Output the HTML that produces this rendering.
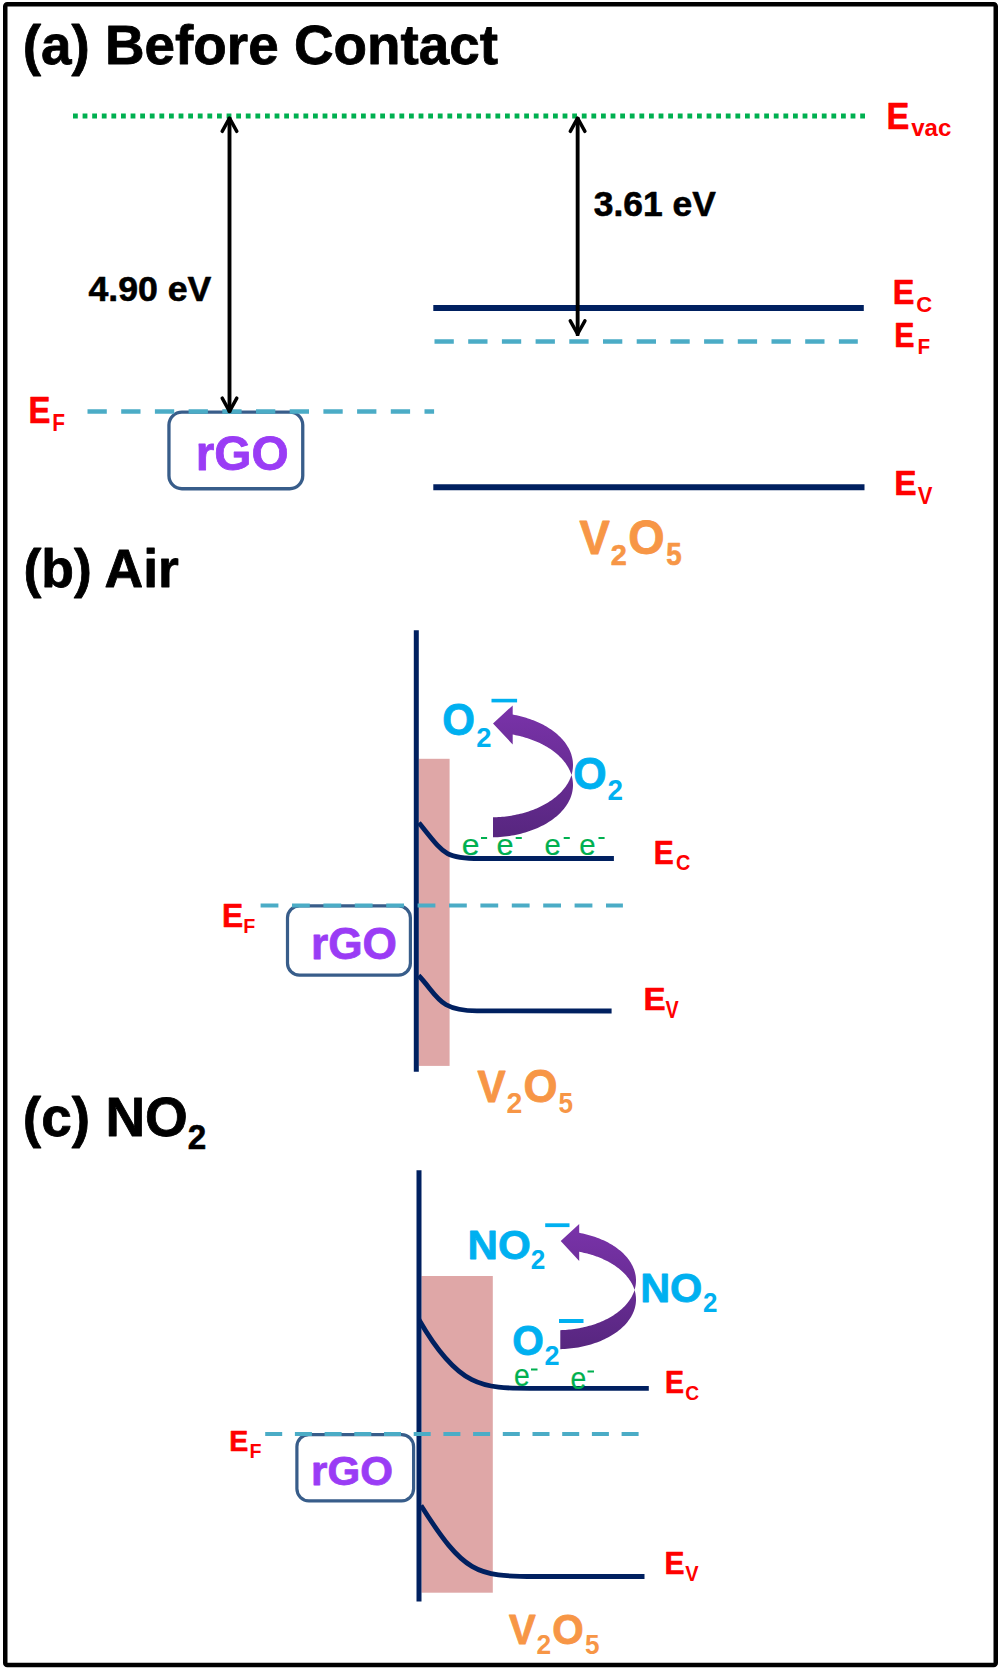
<!DOCTYPE html>
<html><head><meta charset="utf-8"><style>
html,body{margin:0;padding:0;background:#fff;}
body{width:1000px;height:1671px;overflow:hidden;}
svg{display:block;font-family:"Liberation Sans",sans-serif;}
</style></head><body>
<svg width="1000" height="1671" viewBox="0 0 1000 1671">
<defs>
<linearGradient id="gb" x1="0" y1="0" x2="0" y2="1"><stop offset="0" stop-color="#7A33AA"/><stop offset="1" stop-color="#57267F"/></linearGradient>
<linearGradient id="gc" x1="0" y1="0" x2="0" y2="1"><stop offset="0" stop-color="#7A33AA"/><stop offset="1" stop-color="#57267F"/></linearGradient>
</defs>
<rect width="1000" height="1671" fill="#fff"/>
<rect x="5.25" y="4.25" width="990.5" height="1660.75" rx="2" fill="none" stroke="#000" stroke-width="4.5"/>
<text transform="translate(22.77,64.30) scale(0.5485,0.5494)" font-size="100" font-weight="bold" fill="#000" stroke="#000" stroke-width="1.457" stroke-linejoin="round">(a) Before Contact</text>
<line x1="73" y1="116" x2="867" y2="116" stroke="#00B050" stroke-width="5" stroke-linecap="butt" stroke-dasharray="4.8 4.8"/>
<text transform="translate(886.51,128.60) scale(0.3422,0.3663)" font-size="100" font-weight="bold" fill="#FF0000" stroke="#FF0000" stroke-width="1.694" stroke-linejoin="round">E</text>
<text transform="translate(911.21,135.88) scale(0.2409,0.2300)" font-size="100" font-weight="bold" fill="#FF0000">vac</text>
<text transform="translate(88.46,301.05) scale(0.3568,0.3545)" font-size="100" font-weight="bold" fill="#000" stroke="#000" stroke-width="1.687" stroke-linejoin="round">4.90 eV</text>
<text transform="translate(593.79,216.31) scale(0.3541,0.3481)" font-size="100" font-weight="bold" fill="#000" stroke="#000" stroke-width="1.709" stroke-linejoin="round">3.61 eV</text>
<line x1="433.3" y1="308" x2="863.8" y2="308" stroke="#002060" stroke-width="6" stroke-linecap="butt"/>
<text transform="translate(892.83,304.20) scale(0.3244,0.3474)" font-size="100" font-weight="bold" fill="#FF0000" stroke="#FF0000" stroke-width="1.786" stroke-linejoin="round">E</text>
<text transform="translate(916.20,311.98) scale(0.2202,0.2217)" font-size="100" font-weight="bold" fill="#FF0000">C</text>
<line x1="434.5" y1="341.5" x2="857.8" y2="341.5" stroke="#4BACC6" stroke-width="4.5" stroke-linecap="butt" stroke-dasharray="19.3 14.4"/>
<text transform="translate(894.37,346.90) scale(0.3030,0.3503)" font-size="100" font-weight="bold" fill="#FF0000" stroke="#FF0000" stroke-width="1.837" stroke-linejoin="round">E</text>
<text transform="translate(917.62,354.20) scale(0.2070,0.2253)" font-size="100" font-weight="bold" fill="#FF0000">F</text>
<line x1="433.3" y1="487.3" x2="864.5" y2="487.3" stroke="#002060" stroke-width="6" stroke-linecap="butt"/>
<text transform="translate(894.16,494.90) scale(0.3351,0.3576)" font-size="100" font-weight="bold" fill="#FF0000" stroke="#FF0000" stroke-width="1.732" stroke-linejoin="round">E</text>
<text transform="translate(917.65,503.50) scale(0.2204,0.2471)" font-size="100" font-weight="bold" fill="#FF0000">V</text>
<rect x="168.95000000000002" y="412.04999999999995" width="133.80" height="76.70" rx="13" fill="#fff" stroke="#385D8A" stroke-width="3.3"/>
<line x1="87.5" y1="411.5" x2="434.1" y2="411.5" stroke="#4BACC6" stroke-width="4.5" stroke-linecap="butt" stroke-dasharray="19.3 14.4"/>
<text transform="translate(28.61,423.20) scale(0.3280,0.3605)" font-size="100" font-weight="bold" fill="#FF0000" stroke="#FF0000" stroke-width="1.743" stroke-linejoin="round">E</text>
<text transform="translate(52.30,430.70) scale(0.2089,0.2355)" font-size="100" font-weight="bold" fill="#FF0000">F</text>
<line x1="229.5" y1="117.7" x2="229.5" y2="412.8" stroke="#000" stroke-width="3.5" stroke-linecap="butt"/>
<path d="M222.2,131.3 L229.5,118.2 L236.8,131.3" fill="none" stroke="#000" stroke-width="3.5" stroke-linecap="round" stroke-linejoin="round"/>
<line x1="229.5" y1="117" x2="229.5" y2="411.8" stroke="#000" stroke-width="3.5" stroke-linecap="butt"/>
<path d="M222.2,398.2 L229.5,411.3 L236.8,398.2" fill="none" stroke="#000" stroke-width="3.5" stroke-linecap="round" stroke-linejoin="round"/>
<line x1="577.6" y1="117.7" x2="577.6" y2="336" stroke="#000" stroke-width="3.5" stroke-linecap="butt"/>
<path d="M570.3000000000001,131.3 L577.6,118.2 L584.9,131.3" fill="none" stroke="#000" stroke-width="3.5" stroke-linecap="round" stroke-linejoin="round"/>
<line x1="577.6" y1="117" x2="577.6" y2="334.5" stroke="#000" stroke-width="3.5" stroke-linecap="butt"/>
<path d="M570.3000000000001,320.9 L577.6,334.0 L584.9,320.9" fill="none" stroke="#000" stroke-width="3.5" stroke-linecap="round" stroke-linejoin="round"/>
<text transform="translate(195.75,469.83) scale(0.4780,0.4830)" font-size="100" font-weight="bold" fill="#9A3CF5" stroke="#9A3CF5" stroke-width="1.665" stroke-linejoin="round">rGO</text>
<text transform="translate(579.49,553.60) scale(0.4546,0.4782)" font-size="100" font-weight="bold" fill="#F79646" stroke="#F79646" stroke-width="1.715" stroke-linejoin="round">V</text>
<text transform="translate(610.80,564.90) scale(0.2887,0.3022)" font-size="100" font-weight="bold" fill="#F79646" stroke="#F79646" stroke-width="2.031" stroke-linejoin="round">2</text>
<text transform="translate(628.28,553.63) scale(0.4677,0.4830)" font-size="100" font-weight="bold" fill="#F79646" stroke="#F79646" stroke-width="1.683" stroke-linejoin="round">O</text>
<text transform="translate(666.35,564.90) scale(0.2774,0.3067)" font-size="100" font-weight="bold" fill="#F79646" stroke="#F79646" stroke-width="2.055" stroke-linejoin="round">5</text>
<text transform="translate(23.44,586.80) scale(0.5349,0.5422)" font-size="100" font-weight="bold" fill="#000" stroke="#000" stroke-width="1.485" stroke-linejoin="round">(b) Air</text>
<rect x="418.8" y="758.8" width="30.80" height="307.10" fill="#DFA7A7"/>
<line x1="416.3" y1="630.2" x2="416.3" y2="1071.7" stroke="#002060" stroke-width="5" stroke-linecap="butt"/>
<path d="M418.9,822.8 C443.98,853.69 444.15,858.5 480,858.5 L613.9,858.5" fill="none" stroke="#002060" stroke-width="4.8" stroke-linecap="butt" stroke-linejoin="round"/>
<path d="M418.6,975.5 C438.2,995.96 438.2,1010.8 477,1010.8 L611.6,1011" fill="none" stroke="#002060" stroke-width="4.8" stroke-linecap="butt" stroke-linejoin="round"/>
<rect x="287.5" y="905.8000000000001" width="122.90" height="69.40" rx="12" fill="#fff" stroke="#385D8A" stroke-width="3.2"/>
<line x1="260.6" y1="905.6" x2="622.9" y2="905.6" stroke="#4BACC6" stroke-width="4" stroke-linecap="butt" stroke-dasharray="17.8 13.6"/>
<text transform="translate(221.88,926.50) scale(0.3173,0.3285)" font-size="100" font-weight="bold" fill="#FF0000" stroke="#FF0000" stroke-width="1.858" stroke-linejoin="round">E</text>
<text transform="translate(243.28,933.40) scale(0.1971,0.2093)" font-size="100" font-weight="bold" fill="#FF0000">F</text>
<text transform="translate(310.99,958.97) scale(0.4420,0.4407)" font-size="100" font-weight="bold" fill="#9A3CF5" stroke="#9A3CF5" stroke-width="1.813" stroke-linejoin="round">rGO</text>
<text transform="translate(653.80,864.00) scale(0.2994,0.3270)" font-size="100" font-weight="bold" fill="#FF0000" stroke="#FF0000" stroke-width="1.915" stroke-linejoin="round">E</text>
<text transform="translate(675.88,870.39) scale(0.1988,0.2133)" font-size="100" font-weight="bold" fill="#FF0000">C</text>
<text transform="translate(643.58,1010.00) scale(0.3315,0.3140)" font-size="100" font-weight="bold" fill="#FF0000" stroke="#FF0000" stroke-width="1.859" stroke-linejoin="round">E</text>
<text transform="translate(665.57,1017.50) scale(0.1975,0.2384)" font-size="100" font-weight="bold" fill="#FF0000">V</text>
<text transform="translate(477.41,1101.80) scale(0.4225,0.4491)" font-size="100" font-weight="bold" fill="#F79646" stroke="#F79646" stroke-width="1.836" stroke-linejoin="round">V</text>
<text transform="translate(506.41,1113.40) scale(0.2846,0.2965)" font-size="100" font-weight="bold" fill="#F79646">2</text>
<text transform="translate(523.51,1102.05) scale(0.4375,0.4562)" font-size="100" font-weight="bold" fill="#F79646" stroke="#F79646" stroke-width="1.790" stroke-linejoin="round">O</text>
<text transform="translate(558.40,1113.11) scale(0.2613,0.2924)" font-size="100" font-weight="bold" fill="#F79646">5</text>
<path d="M493.00,837.37 L495.39,837.29 L497.77,837.17 L500.14,837.01 L502.51,836.80 L504.86,836.55 L507.21,836.26 L509.54,835.93 L511.85,835.55 L514.14,835.13 L516.42,834.67 L518.67,834.17 L520.90,833.63 L523.10,833.05 L525.28,832.43 L527.43,831.77 L529.54,831.07 L531.63,830.33 L533.68,829.56 L535.69,828.75 L537.66,827.90 L539.60,827.01 L541.49,826.10 L543.35,825.14 L545.15,824.16 L546.91,823.14 L548.63,822.09 L550.30,821.01 L551.91,819.90 L553.48,818.76 L554.99,817.59 L556.45,816.40 L557.85,815.18 L559.20,813.93 L560.49,812.67 L561.72,811.37 L562.89,810.06 L564.01,808.73 L565.06,807.37 L566.04,806.00 L566.97,804.61 L567.83,803.20 L568.63,801.78 L569.36,800.35 L570.03,798.90 L570.63,797.44 L571.16,795.97 L571.63,794.49 L572.03,793.00 L572.36,791.51 L572.62,790.01 L572.81,788.51 L572.94,787.00 L573.00,785.49 L572.98,783.99 L572.90,782.48 L572.75,780.97 L572.54,779.47 L572.25,777.98 L571.90,776.48 L571.47,775.00 L571.47,775.00 L571.84,773.72 L572.16,772.44 L572.43,771.15 L572.64,769.86 L572.81,768.57 L572.92,767.28 L572.99,765.98 L573.00,764.68 L572.96,763.38 L572.87,762.09 L572.73,760.79 L572.54,759.50 L572.30,758.21 L572.01,756.93 L571.67,755.65 L571.28,754.37 L570.83,753.11 L570.34,751.85 L569.80,750.60 L569.21,749.35 L568.57,748.12 L567.89,746.90 L567.15,745.68 L566.37,744.48 L565.55,743.30 L564.67,742.12 L563.75,740.96 L562.79,739.82 L561.78,738.69 L560.72,737.57 L559.62,736.47 L558.48,735.40 L557.30,734.33 L556.08,733.29 L554.81,732.27 L553.51,731.26 L552.17,730.28 L550.79,729.32 L549.37,728.38 L547.92,727.47 L546.43,726.57 L544.90,725.70 L543.34,724.85 L541.75,724.03 L540.13,723.24 L538.48,722.47 L536.79,721.72 L535.08,721.00 L533.34,720.31 L531.58,719.65 L529.78,719.01 L527.97,718.40 L526.13,717.82 L524.27,717.27 L522.39,716.75 L520.48,716.26 L518.56,715.80 L516.62,715.37 L514.67,714.97 L512.70,714.60 L512.70,705.40 L493.00,723.40 L512.70,744.40 L512.70,734.60 L514.16,734.87 L515.62,735.16 L517.06,735.46 L518.50,735.79 L519.92,736.12 L521.34,736.48 L522.75,736.85 L524.14,737.24 L525.52,737.64 L526.90,738.06 L528.25,738.50 L529.60,738.95 L530.93,739.42 L532.25,739.90 L533.56,740.40 L534.85,740.91 L536.12,741.44 L537.38,741.98 L538.62,742.53 L539.85,743.10 L541.06,743.69 L542.25,744.29 L543.43,744.90 L544.59,745.53 L545.73,746.17 L546.85,746.82 L547.95,747.48 L549.03,748.16 L550.09,748.85 L551.13,749.56 L552.15,750.27 L553.15,751.00 L554.13,751.73 L555.09,752.48 L556.02,753.24 L556.93,754.01 L557.82,754.79 L558.69,755.59 L559.53,756.39 L560.35,757.20 L561.15,758.02 L561.92,758.85 L562.67,759.69 L563.40,760.53 L564.10,761.39 L564.77,762.25 L565.42,763.12 L566.04,764.00 L566.64,764.88 L567.21,765.78 L567.76,766.67 L568.28,767.58 L568.77,768.49 L569.24,769.40 L569.68,770.33 L570.09,771.25 L570.48,772.18 L570.84,773.12 L571.17,774.06 L571.47,775.00 L571.47,775.00 L571.10,776.15 L570.68,777.29 L570.23,778.43 L569.73,779.56 L569.20,780.68 L568.62,781.80 L568.01,782.90 L567.35,784.00 L566.66,785.09 L565.93,786.16 L565.16,787.23 L564.35,788.29 L563.51,789.33 L562.63,790.37 L561.71,791.38 L560.76,792.39 L559.77,793.38 L558.75,794.36 L557.69,795.33 L556.60,796.27 L555.47,797.21 L554.31,798.12 L553.12,799.02 L551.90,799.91 L550.65,800.77 L549.37,801.62 L548.05,802.45 L546.71,803.26 L545.34,804.05 L543.94,804.82 L542.52,805.58 L541.07,806.31 L539.59,807.02 L538.09,807.71 L536.56,808.38 L535.01,809.02 L533.44,809.65 L531.85,810.25 L530.23,810.83 L528.60,811.39 L526.95,811.92 L525.27,812.43 L523.58,812.92 L521.88,813.38 L520.15,813.82 L518.42,814.23 L516.66,814.62 L514.90,814.99 L513.12,815.33 L511.33,815.64 L509.53,815.93 L507.72,816.19 L505.90,816.43 L504.08,816.64 L502.24,816.83 L500.40,816.99 L498.56,817.12 L496.71,817.23 L494.86,817.31 L493.00,817.37Z" fill="url(#gb)"/>
<text transform="translate(442.18,735.47) scale(0.4203,0.4449)" font-size="100" font-weight="bold" fill="#00B0F0" stroke="#00B0F0" stroke-width="1.849" stroke-linejoin="round">O</text>
<text transform="translate(476.35,746.50) scale(0.2742,0.2821)" font-size="100" font-weight="bold" fill="#00B0F0">2</text>
<rect x="491.5" y="698.8" width="25.60" height="3.60" fill="#00B0F0"/>
<text transform="translate(573.14,789.06) scale(0.4289,0.4463)" font-size="100" font-weight="bold" fill="#00B0F0" stroke="#00B0F0" stroke-width="1.828" stroke-linejoin="round">O</text>
<text transform="translate(607.54,800.30) scale(0.2783,0.2893)" font-size="100" font-weight="bold" fill="#00B0F0">2</text>
<text transform="translate(461.74,855.11) scale(0.3197,0.2994)" font-size="100" font-weight="normal" fill="#00B050" stroke="#00B050" stroke-width="0.646" stroke-linejoin="round">e</text>
<rect x="481.0" y="837" width="6.10" height="2.00" fill="#00B050"/>
<text transform="translate(496.50,855.11) scale(0.3069,0.2994)" font-size="100" font-weight="normal" fill="#00B050" stroke="#00B050" stroke-width="0.660" stroke-linejoin="round">e</text>
<rect x="515.7" y="837" width="6.10" height="2.00" fill="#00B050"/>
<text transform="translate(544.56,855.11) scale(0.2920,0.2994)" font-size="100" font-weight="normal" fill="#00B050" stroke="#00B050" stroke-width="0.676" stroke-linejoin="round">e</text>
<rect x="563.7" y="837" width="6.10" height="2.00" fill="#00B050"/>
<text transform="translate(579.35,855.11) scale(0.2941,0.2994)" font-size="100" font-weight="normal" fill="#00B050" stroke="#00B050" stroke-width="0.674" stroke-linejoin="round">e</text>
<rect x="598.5" y="837" width="6.10" height="2.00" fill="#00B050"/>
<text transform="translate(22.86,1135.85) scale(0.5502,0.5487)" font-size="100" font-weight="bold" fill="#000" stroke="#000" stroke-width="1.456" stroke-linejoin="round">(c) NO</text>
<text transform="translate(187.65,1149.20) scale(0.3323,0.3552)" font-size="100" font-weight="bold" fill="#000" stroke="#000" stroke-width="1.745" stroke-linejoin="round">2</text>
<rect x="421.5" y="1276" width="71.30" height="316.70" fill="#DFA7A7"/>
<line x1="419" y1="1170.2" x2="419" y2="1601.6" stroke="#002060" stroke-width="5" stroke-linecap="butt"/>
<path d="M419,1319.7 C458.32,1388.21 483.51,1388.3 530,1388.3 L648.8,1388.3" fill="none" stroke="#002060" stroke-width="4.8" stroke-linecap="butt" stroke-linejoin="round"/>
<path d="M421,1505.5 C463.71,1573.13 476.28,1576.5 535,1576.5 L644.5,1576.5" fill="none" stroke="#002060" stroke-width="4.8" stroke-linecap="butt" stroke-linejoin="round"/>
<rect x="296.90000000000003" y="1434.6999999999998" width="116.70" height="66.10" rx="12" fill="#fff" stroke="#385D8A" stroke-width="3.2"/>
<line x1="265.2" y1="1434.1" x2="638.8" y2="1434.1" stroke="#4BACC6" stroke-width="4" stroke-linecap="butt" stroke-dasharray="17 12.7"/>
<text transform="translate(229.29,1451.00) scale(0.2852,0.3023)" font-size="100" font-weight="bold" fill="#FF0000" stroke="#FF0000" stroke-width="2.042" stroke-linejoin="round">E</text>
<text transform="translate(249.38,1457.90) scale(0.1971,0.2093)" font-size="100" font-weight="bold" fill="#FF0000">F</text>
<text transform="translate(311.02,1484.60) scale(0.4214,0.4096)" font-size="100" font-weight="bold" fill="#9A3CF5" stroke="#9A3CF5" stroke-width="1.925" stroke-linejoin="round">rGO</text>
<text transform="translate(664.89,1393.20) scale(0.2852,0.3125)" font-size="100" font-weight="bold" fill="#FF0000" stroke="#FF0000" stroke-width="2.008" stroke-linejoin="round">E</text>
<text transform="translate(685.31,1400.10) scale(0.1927,0.2006)" font-size="100" font-weight="bold" fill="#FF0000">C</text>
<text transform="translate(664.40,1574.10) scale(0.2994,0.3169)" font-size="100" font-weight="bold" fill="#FF0000" stroke="#FF0000" stroke-width="1.947" stroke-linejoin="round">E</text>
<text transform="translate(685.16,1580.80) scale(0.2005,0.2137)" font-size="100" font-weight="bold" fill="#FF0000">V</text>
<text transform="translate(508.93,1643.70) scale(0.4010,0.4215)" font-size="100" font-weight="bold" fill="#F79646" stroke="#F79646" stroke-width="1.945" stroke-linejoin="round">V</text>
<text transform="translate(536.59,1654.20) scale(0.2638,0.2750)" font-size="100" font-weight="bold" fill="#F79646">2</text>
<text transform="translate(552.34,1644.08) scale(0.4044,0.4322)" font-size="100" font-weight="bold" fill="#F79646" stroke="#F79646" stroke-width="1.912" stroke-linejoin="round">O</text>
<text transform="translate(585.00,1653.93) scale(0.2613,0.2752)" font-size="100" font-weight="bold" fill="#F79646">5</text>
<path d="M560.30,1349.16 L562.56,1349.08 L564.82,1348.96 L567.07,1348.79 L569.32,1348.59 L571.55,1348.35 L573.77,1348.07 L575.98,1347.74 L578.17,1347.38 L580.35,1346.98 L582.50,1346.54 L584.63,1346.06 L586.75,1345.54 L588.83,1344.99 L590.89,1344.39 L592.93,1343.76 L594.93,1343.10 L596.90,1342.39 L598.84,1341.66 L600.75,1340.88 L602.62,1340.08 L604.45,1339.24 L606.24,1338.36 L607.99,1337.46 L609.70,1336.52 L611.37,1335.56 L612.99,1334.56 L614.57,1333.54 L616.09,1332.48 L617.57,1331.40 L619.00,1330.30 L620.38,1329.17 L621.71,1328.01 L622.98,1326.83 L624.20,1325.63 L625.36,1324.41 L626.47,1323.16 L627.52,1321.90 L628.51,1320.62 L629.45,1319.32 L630.32,1318.00 L631.14,1316.67 L631.89,1315.33 L632.58,1313.97 L633.21,1312.60 L633.77,1311.22 L634.28,1309.83 L634.71,1308.43 L635.09,1307.02 L635.40,1305.61 L635.65,1304.19 L635.83,1302.77 L635.95,1301.35 L636.00,1299.92 L635.98,1298.50 L635.91,1297.07 L635.76,1295.65 L635.55,1294.23 L635.28,1292.81 L634.94,1291.40 L634.54,1290.00 L634.54,1290.00 L634.89,1288.80 L635.19,1287.59 L635.45,1286.37 L635.65,1285.15 L635.81,1283.93 L635.92,1282.71 L635.98,1281.49 L636.00,1280.26 L635.97,1279.04 L635.88,1277.82 L635.76,1276.59 L635.58,1275.37 L635.35,1274.16 L635.08,1272.95 L634.76,1271.74 L634.40,1270.53 L633.98,1269.34 L633.52,1268.15 L633.01,1266.97 L632.46,1265.79 L631.86,1264.63 L631.22,1263.47 L630.53,1262.33 L629.80,1261.19 L629.02,1260.07 L628.20,1258.96 L627.33,1257.86 L626.42,1256.78 L625.47,1255.71 L624.48,1254.66 L623.45,1253.62 L622.38,1252.60 L621.26,1251.59 L620.11,1250.61 L618.92,1249.64 L617.69,1248.69 L616.43,1247.76 L615.13,1246.84 L613.79,1245.95 L612.42,1245.08 L611.02,1244.24 L609.58,1243.41 L608.12,1242.61 L606.62,1241.83 L605.09,1241.07 L603.53,1240.33 L601.94,1239.63 L600.33,1238.94 L598.69,1238.28 L597.02,1237.65 L595.33,1237.04 L593.62,1236.46 L591.88,1235.91 L590.12,1235.38 L588.35,1234.88 L586.55,1234.41 L584.74,1233.96 L582.91,1233.55 L581.06,1233.16 L579.20,1232.80 L579.20,1224.00 L560.70,1241.10 L579.20,1261.10 L579.20,1251.80 L580.58,1252.07 L581.95,1252.34 L583.31,1252.64 L584.66,1252.95 L586.01,1253.27 L587.34,1253.61 L588.67,1253.97 L589.98,1254.34 L591.28,1254.72 L592.57,1255.12 L593.85,1255.54 L595.12,1255.97 L596.38,1256.41 L597.62,1256.87 L598.85,1257.35 L600.06,1257.83 L601.26,1258.33 L602.45,1258.85 L603.62,1259.38 L604.77,1259.92 L605.91,1260.47 L607.03,1261.04 L608.14,1261.62 L609.23,1262.21 L610.30,1262.82 L611.35,1263.43 L612.39,1264.06 L613.41,1264.70 L614.41,1265.36 L615.38,1266.02 L616.35,1266.69 L617.29,1267.38 L618.21,1268.08 L619.11,1268.78 L619.99,1269.50 L620.84,1270.23 L621.68,1270.97 L622.50,1271.71 L623.29,1272.47 L624.06,1273.23 L624.81,1274.01 L625.54,1274.79 L626.25,1275.58 L626.93,1276.38 L627.59,1277.18 L628.22,1277.99 L628.83,1278.81 L629.42,1279.64 L629.98,1280.47 L630.52,1281.31 L631.04,1282.16 L631.53,1283.01 L631.99,1283.87 L632.43,1284.73 L632.85,1285.60 L633.24,1286.47 L633.60,1287.35 L633.94,1288.23 L634.26,1289.11 L634.54,1290.00 L634.54,1290.00 L634.19,1291.08 L633.79,1292.16 L633.36,1293.24 L632.89,1294.30 L632.38,1295.36 L631.84,1296.42 L631.26,1297.46 L630.64,1298.50 L629.98,1299.53 L629.29,1300.54 L628.56,1301.55 L627.80,1302.55 L627.00,1303.54 L626.17,1304.51 L625.30,1305.47 L624.40,1306.43 L623.47,1307.36 L622.50,1308.29 L621.50,1309.20 L620.46,1310.10 L619.40,1310.98 L618.31,1311.85 L617.18,1312.70 L616.03,1313.53 L614.84,1314.35 L613.63,1315.15 L612.39,1315.94 L611.12,1316.71 L609.82,1317.46 L608.50,1318.19 L607.16,1318.90 L605.78,1319.59 L604.39,1320.27 L602.97,1320.92 L601.52,1321.55 L600.06,1322.17 L598.57,1322.76 L597.07,1323.33 L595.54,1323.88 L593.99,1324.41 L592.43,1324.92 L590.85,1325.41 L589.25,1325.87 L587.64,1326.31 L586.01,1326.73 L584.36,1327.12 L582.70,1327.50 L581.03,1327.84 L579.35,1328.17 L577.66,1328.47 L575.95,1328.75 L574.24,1329.00 L572.52,1329.23 L570.79,1329.44 L569.05,1329.62 L567.31,1329.77 L565.56,1329.91 L563.81,1330.01 L562.06,1330.10 L560.30,1330.16Z" fill="url(#gc)"/>
<text transform="translate(467.58,1258.50) scale(0.4220,0.4110)" font-size="100" font-weight="bold" fill="#00B0F0" stroke="#00B0F0" stroke-width="1.921" stroke-linejoin="round">NO</text>
<text transform="translate(530.69,1269.00) scale(0.2617,0.2764)" font-size="100" font-weight="bold" fill="#00B0F0">2</text>
<rect x="545.2" y="1223.3" width="24.30" height="3.80" fill="#00B0F0"/>
<text transform="translate(640.13,1301.70) scale(0.4148,0.4124)" font-size="100" font-weight="bold" fill="#00B0F0" stroke="#00B0F0" stroke-width="1.934" stroke-linejoin="round">NO</text>
<text transform="translate(703.10,1312.00) scale(0.2596,0.2721)" font-size="100" font-weight="bold" fill="#00B0F0">2</text>
<text transform="translate(512.24,1354.69) scale(0.4059,0.4195)" font-size="100" font-weight="bold" fill="#00B0F0" stroke="#00B0F0" stroke-width="1.939" stroke-linejoin="round">O</text>
<text transform="translate(544.56,1365.00) scale(0.2700,0.2721)" font-size="100" font-weight="bold" fill="#00B0F0">2</text>
<rect x="559" y="1319" width="24.50" height="4.00" fill="#00B0F0"/>
<text transform="translate(513.90,1386.10) scale(0.2834,0.3067)" font-size="100" font-weight="normal" fill="#00B050" stroke="#00B050" stroke-width="0.678" stroke-linejoin="round">e</text>
<rect x="531.0" y="1368.5" width="6.50" height="2.00" fill="#00B050"/>
<text transform="translate(570.40,1388.60) scale(0.2834,0.3067)" font-size="100" font-weight="normal" fill="#00B050" stroke="#00B050" stroke-width="0.678" stroke-linejoin="round">e</text>
<rect x="587.5" y="1370.5" width="6.50" height="2.00" fill="#00B050"/>
</svg>
</body></html>
